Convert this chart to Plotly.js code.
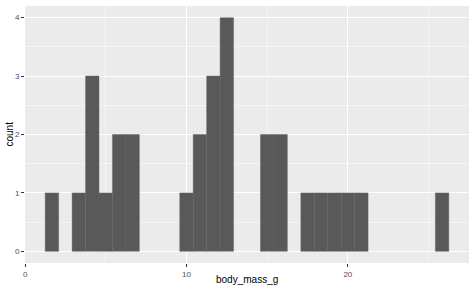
<!DOCTYPE html>
<html>
<head>
<meta charset="utf-8">
<script src="https://cdn.plot.ly/plotly-3.0.1.min.js"></script>
<style>html,body{margin:0;padding:0;background:#fff;}#chart{width:474px;height:292px;}</style>
</head>
<body>
<div id="chart"></div>
<script>
// Histogram of body_mass_g (30 bins)
const binStart = 1.24;     // left edge of first bin
const binWidth = 0.834;    // bin width
const counts = [1,0,1,3,1,2,2,0,0,0,1,2,3,4,0,0,2,2,0,1,1,1,1,1,0,0,0,0,0,1];
const xTickVals = [0, 10, 20];
const yTickVals = [0, 1, 2, 3, 4];
const xTitle = "body_mass_g";
const yTitle = "count";

const centers = counts.map((_, i) => binStart + binWidth * (i + 0.5));

const trace = {
  type: 'bar',
  x: centers,
  y: counts,
  width: centers.map(() => binWidth),
  marker: {color: '#595959', line: {color: '#606060', width: counts.map(c => c > 0 ? 0.4 : 0)}},
  hoverinfo: 'skip'
};

const span = binWidth * counts.length;
const xr = [binStart - span * 0.05, binStart + span * 1.05];
const yr = [-0.2, 4.2];

const layout = {
  width: 474, height: 292,
  margin: {l: 25, r: 5, t: 6, b: 29},
  paper_bgcolor: '#ffffff',
  plot_bgcolor: '#EBEBEB',
  showlegend: false,
  bargap: 0,
  font: {family: 'Liberation Sans, Arial, sans-serif', color: '#000'},
  xaxis: {
    range: xr, tickvals: xTickVals, ticktext: xTickVals.map(String),
    showgrid: true, gridcolor: '#ffffff', gridwidth: 1.1,
    minor: {dtick: 5, tick0: 0, showgrid: true, gridcolor: '#ffffff', gridwidth: 0.5, ticks: ''},
    zeroline: false, showline: false,
    ticks: 'outside', ticklen: 3, tickwidth: 1, tickcolor: '#333333',
    tickfont: {size: 8, color: '#4D4D4D'},
    automargin: false
  },
  yaxis: {
    range: yr, tickvals: yTickVals, ticktext: yTickVals.map(String),
    showgrid: true, gridcolor: '#ffffff', gridwidth: 1.1,
    minor: {dtick: 0.5, tick0: 0, showgrid: true, gridcolor: '#ffffff', gridwidth: 0.5, ticks: ''},
    zeroline: false, showline: false,
    ticks: 'outside', ticklen: 3, tickwidth: 1, tickcolor: '#333333',
    tickfont: {size: 8, color: '#4D4D4D'},
    automargin: false
  },
  annotations: [
    {text: xTitle, xref: 'paper', yref: 'paper', x: 0.5, y: 0, yshift: -16, xanchor: 'center', yanchor: 'middle',
     showarrow: false, font: {size: 10, color: '#000'}},
    {text: yTitle, xref: 'paper', yref: 'paper', x: 0, y: 0.5, xshift: -16, textangle: -90, xanchor: 'center', yanchor: 'middle',
     showarrow: false, font: {size: 10, color: '#000'}}
  ]
};

Plotly.newPlot('chart', [trace], layout, {staticPlot: true, displayModeBar: false});
</script>
</body>
</html>
